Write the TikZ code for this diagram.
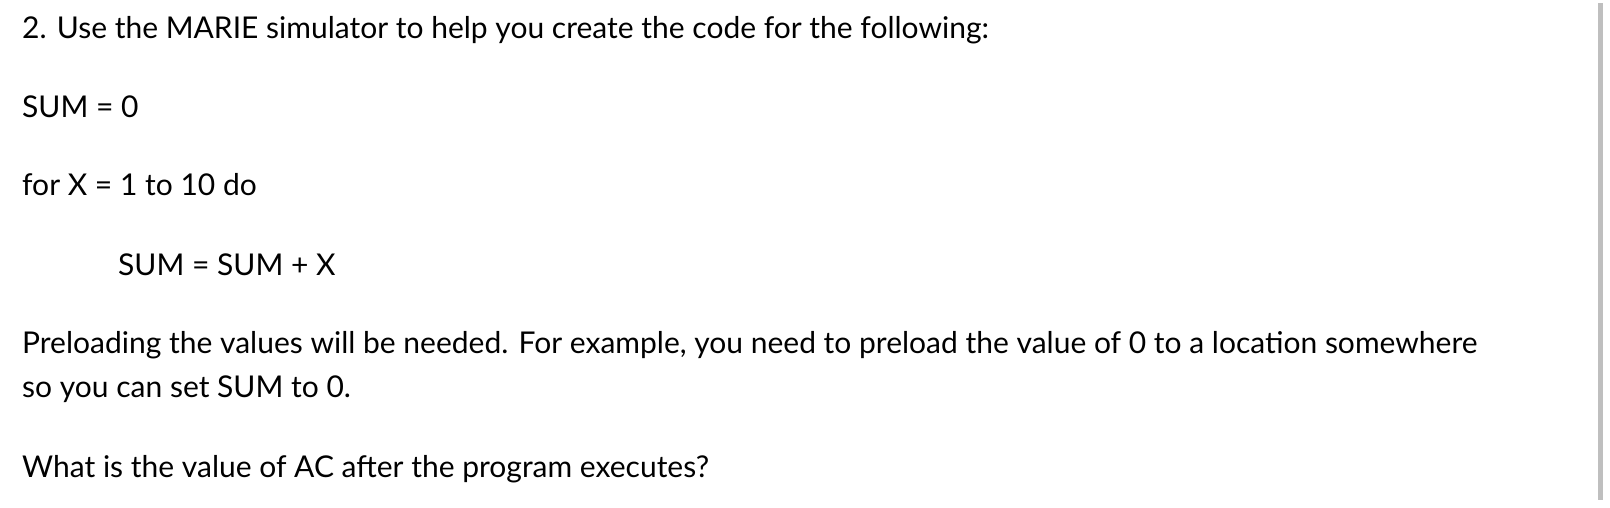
\documentclass[tikz,border=0pt]{standalone}
\usepackage{fontspec}
\setmainfont{Lato}
\begin{document}
\begin{tikzpicture}[x=1pt,y=-1pt,txt/.style={anchor=base west,inner sep=0pt,font=\fontsize{30}{36}\selectfont}]
\useasboundingbox[fill=white] (0,0) rectangle (1610,508);
\fill[black!25] (1598,3) rectangle (1603,500);
\node[txt] (l1) at (22,39) {2. Use the MARIE simulator to help you create the code for the following:};
\node[txt] (l2) at (22,118) {SUM = 0};
\node[txt] (l3) at (22,196) {for X = 1 to 10 do};
\node[txt] (l4) at (118,275) {SUM = SUM + X};
\node[txt] (l5) at (22,353) {Preloading the values will be needed. For example, you need to preload the value of 0 to a location somewhere};
\node[txt] (l6) at (22,397) {so you can set SUM to 0.};
\node[txt] (l7) at (22,477) {What is the value of AC after the program executes?};
\end{tikzpicture}
\end{document}
